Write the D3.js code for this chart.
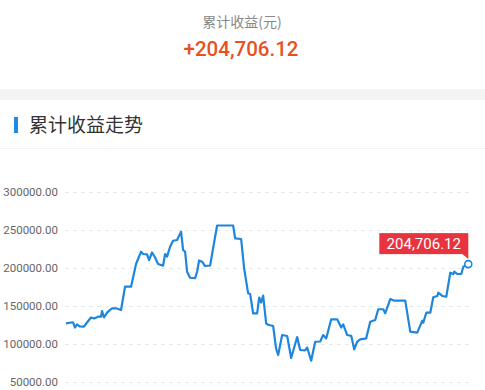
<!DOCTYPE html>
<html>
<head>
<meta charset="utf-8">
<script src="https://cdn.jsdelivr.net/npm/d3@7"></script>
<style>
  body { margin: 0; background: #fff; font-family: "Noto Sans CJK SC", "Noto Sans", sans-serif; overflow: hidden; }
</style>
</head>
<body>
<div id="vis"></div>
<script>
// header texts
var totalLabel = '累计收益(元)';
var totalValue = '+204,706.12';
var sectionTitle = '累计收益走势';

// series: trading day index and cumulative profit
var days = [0, 7, 9, 11, 14, 18, 21, 25, 28, 32, 35, 36, 38, 41, 46, 50, 55, 59, 65, 70,
  75, 77, 81, 83, 86, 89, 92, 97, 99, 101, 104, 107, 111, 115, 117, 119, 121, 124, 129, 131,
  133, 136, 139, 144, 151, 167, 169, 175, 178, 182, 184, 187, 191, 193, 195, 197, 200, 202, 207, 210,
  212, 216, 221, 225, 231, 234, 239, 241, 245, 249, 254, 257, 260, 265, 271, 275, 277, 281, 285, 288,
  291, 294, 300, 304, 309, 312, 317, 319, 324, 328, 339, 344, 351, 356, 357, 360, 364, 367, 371, 372,
  376, 380, 384, 387, 388, 391, 395, 397, 402];
var profits = [126800, 128200, 121300, 125500, 122600, 122400, 127900, 134500, 133200, 135500,
  135500, 142800, 134500, 140800, 146600, 146600, 144300, 175000, 175000, 204900,
  221100, 218000, 217600, 210100, 220000, 213400, 204900, 202600, 218000, 214500,
  227600, 235500, 236400, 247400, 223300, 221100, 194700, 186800, 186100, 194700,
  209500, 207900, 202200, 202900, 255500, 255500, 238700, 237800, 199200, 166300,
  165400, 140000, 140000, 160800, 154200, 163400, 126600, 125000, 123300, 93000,
  85100, 111400, 110100, 81200, 108800, 91700, 91100, 95000, 77600, 102600,
  102900, 111400, 106800, 132100, 132100, 121300, 125300, 111400, 110400, 92600,
  102600, 105800, 107100, 128900, 131200, 145300, 145300, 140000, 158800, 156600,
  156600, 115800, 114500, 130300, 127600, 140800, 140800, 161100, 162800, 167100,
  162800, 161800, 193400, 191700, 194700, 191700, 191700, 201300, 204706.12];
var yTicks = [50000, 100000, 150000, 200000, 250000, 300000];

var width = 485;
var height = 390;

var svg = d3.select('#vis').append('svg')
  .attr('width', width)
  .attr('height', height)
  .style('display', 'block');

// top summary
svg.append('text')
  .attr('x', 242).attr('y', 27)
  .attr('text-anchor', 'middle')
  .attr('font-size', 14).attr('fill', '#888')
  .text(totalLabel);

svg.append('text')
  .attr('x', 241).attr('y', 56)
  .attr('text-anchor', 'middle')
  .attr('font-size', 20.5).attr('font-weight', 500)
  .attr('font-family', 'Roboto, "Noto Sans", sans-serif')
  .attr('fill', '#e8501e')
  .text(totalValue);

// grey separator band
svg.append('rect')
  .attr('x', 0).attr('y', 89).attr('width', width).attr('height', 11)
  .attr('fill', '#f4f4f4');

// section title
svg.append('rect')
  .attr('x', 14).attr('y', 117).attr('width', 4).attr('height', 16)
  .attr('fill', '#1a8ce8');
svg.append('text')
  .attr('x', 29).attr('y', 132)
  .attr('font-size', 19).attr('fill', '#333')
  .text(sectionTitle);
svg.append('line')
  .attr('x1', 0).attr('x2', width).attr('y1', 148.5).attr('y2', 148.5)
  .attr('stroke', '#f2f2f2');

// scales
var x = d3.scaleLinear().domain([0, 402]).range([66, 468.3]);
var y = d3.scaleLinear().domain([0, 300000]).range([419.7, 191.7]);

// grid + y labels
var grid = svg.append('g');
grid.selectAll('line').data(yTicks).enter().append('line')
  .attr('x1', 65).attr('x2', 470)
  .attr('y1', function (d) { return Math.round(y(d)) + 0.5; })
  .attr('y2', function (d) { return Math.round(y(d)) + 0.5; })
  .attr('stroke', '#e8e8e8')
  .attr('stroke-dasharray', '4,4');

var yAxis = d3.axisLeft(y).tickValues(yTicks).tickSize(0).tickPadding(0)
  .tickFormat(function (d) { return d.toFixed(2); });
var ya = svg.append('g').attr('transform', 'translate(58,0)').call(yAxis);
ya.select('.domain').remove();
ya.selectAll('text')
  .attr('font-size', 11.5)
  .attr('font-family', 'Roboto, "Noto Sans", sans-serif')
  .attr('fill', '#666');

// line
var pts = days.map(function (d, i) { return { day: d, v: profits[i] }; });
var line = d3.line()
  .x(function (d) { return x(d.day); })
  .y(function (d) { return y(d.v); });

svg.append('path')
  .datum(pts)
  .attr('d', line)
  .attr('fill', 'none')
  .attr('stroke', '#1e86dc')
  .attr('stroke-width', 2.2)
  .attr('stroke-linejoin', 'round');

// last point marker + label
var last = pts[pts.length - 1];
var lx = x(last.day), ly = y(last.v);
svg.append('circle')
  .attr('cx', lx).attr('cy', ly).attr('r', 3.5)
  .attr('fill', '#fff').attr('stroke', '#1e86dc').attr('stroke-width', 1.6);

var tag = svg.append('g');
tag.append('rect')
  .attr('x', lx - 89).attr('y', ly - 31).attr('width', 89).attr('height', 21)
  .attr('fill', '#e8343e');
tag.append('path')
  .attr('d', 'M' + (lx - 6) + ',' + (ly - 10) + 'L' + lx + ',' + (ly - 10) + 'L' + lx + ',' + (ly - 5) + 'Z')
  .attr('fill', '#e8343e');
tag.append('text')
  .attr('x', lx - 44.5).attr('y', ly - 15)
  .attr('text-anchor', 'middle')
  .attr('font-size', 15)
  .attr('font-family', 'Roboto, "Noto Sans", sans-serif')
  .attr('fill', '#fff')
  .text(d3.format(',.2f')(last.v));
</script>
</body>
</html>
